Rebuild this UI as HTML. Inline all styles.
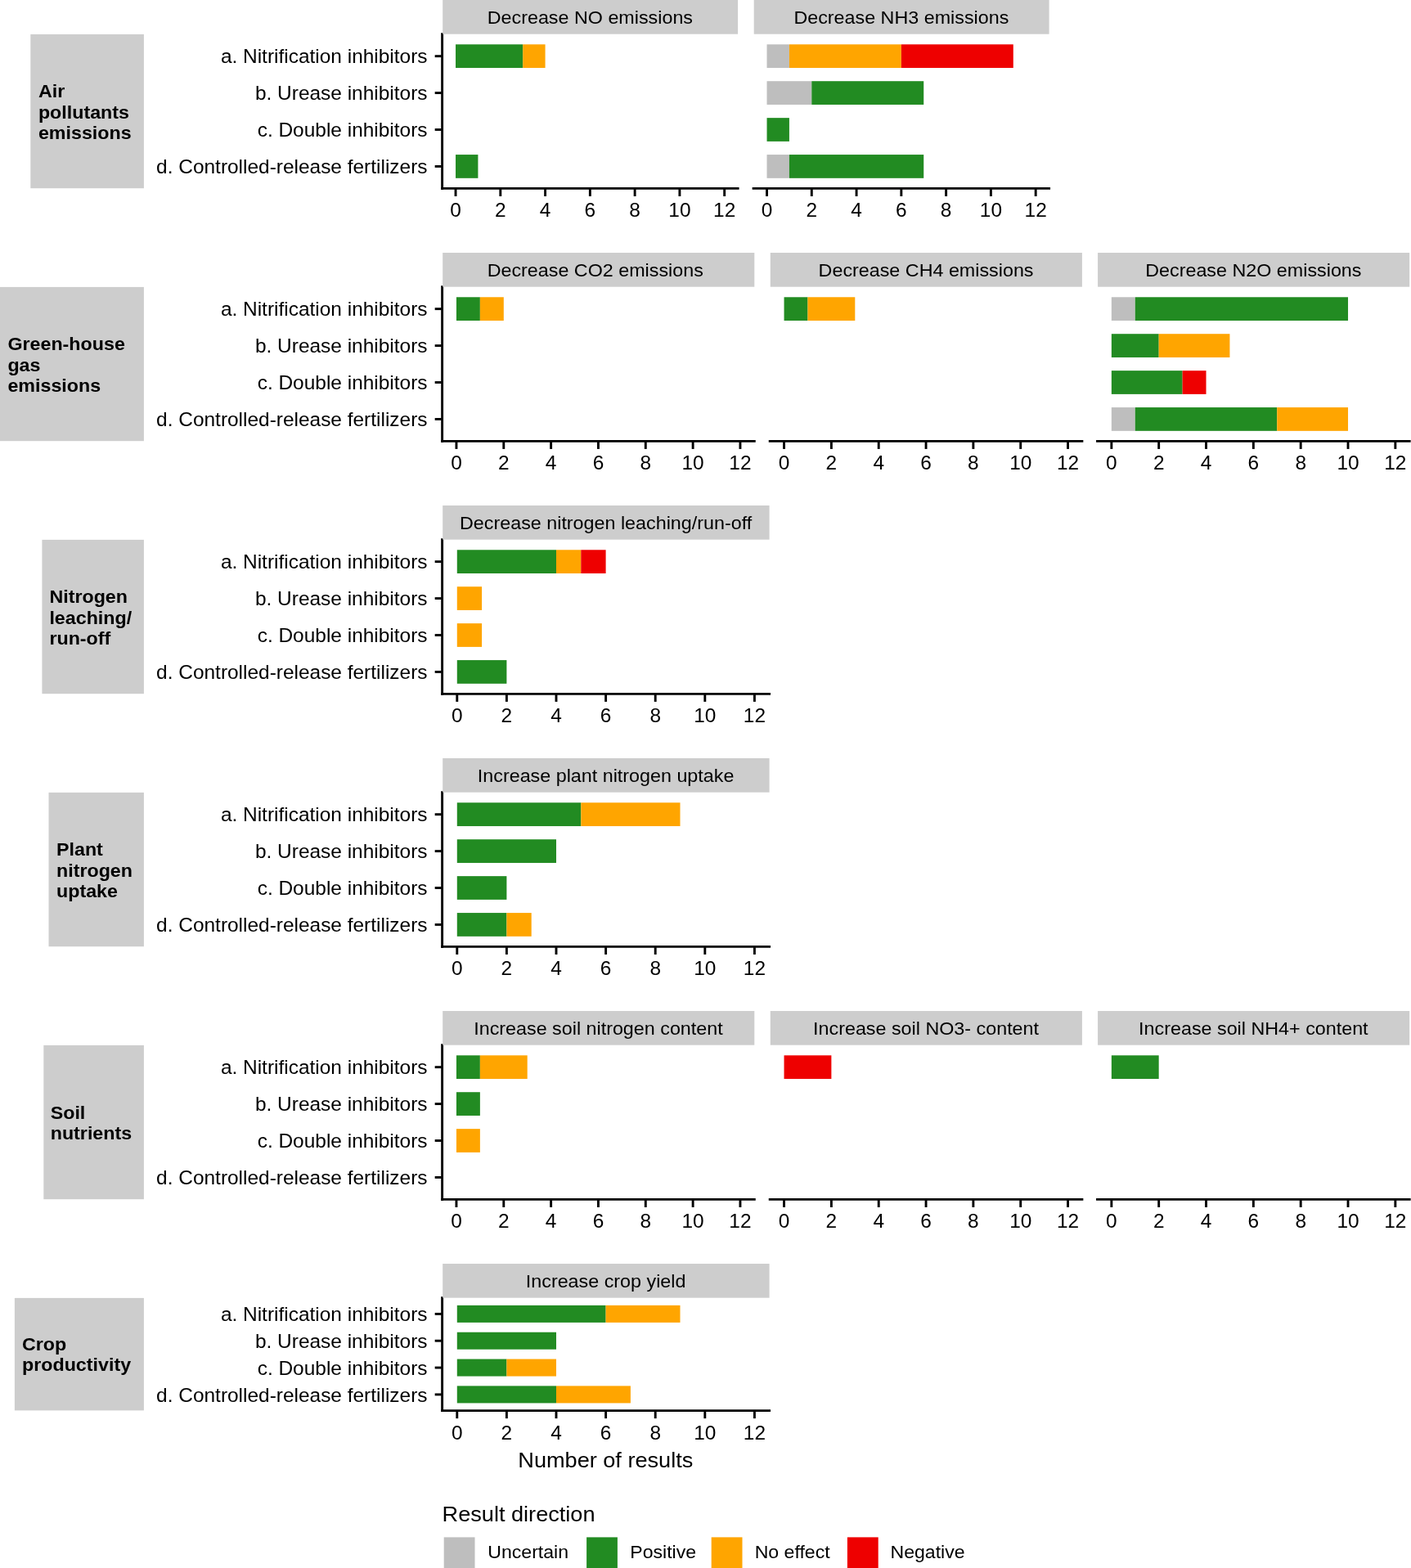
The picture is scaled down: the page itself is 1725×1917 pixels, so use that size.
<!DOCTYPE html>
<html lang="en">
<head>
<meta charset="utf-8">
<title>Effects of enhanced-efficiency fertilizers: number of results by direction</title>
<style>
html,body{margin:0;padding:0;background:#fff;}
body{width:1725px;height:1917px;overflow:hidden;}
svg{display:block;}
text{font-family:"Liberation Sans",Arial,Helvetica,sans-serif;fill:#000;}
.a{font-size:24.45px;}
.s{font-size:22.0px;}
.b{font-size:22.0px;font-weight:bold;}
.t{font-size:25.7px;}
.l{font-size:22.4px;}
</style>
</head>
<body>
<svg width="1725" height="1917" viewBox="0 0 1725 1917" role="img" aria-label="Stacked bar charts of the number of results by result direction for four fertilizer types across six outcome groups">
<rect x="0" y="0" width="1725" height="1917" fill="#fff"/>
<rect x="37.3" y="41.9" width="138.6" height="188.3" fill="#CDCDCD"/>
<text transform="translate(46.9 119.3) scale(1.058 1)" class="b">Air</text>
<text transform="translate(46.9 144.5) scale(1.058 1)" class="b">pollutants</text>
<text transform="translate(46.9 169.7) scale(1.058 1)" class="b">emissions</text>
<text x="522.5" y="77.26" class="a" text-anchor="end">a. Nitrification inhibitors</text>
<line x1="531.65" y1="68.66" x2="540.6" y2="68.66" stroke="#000" stroke-width="2.9" stroke-linecap="butt"/>
<text x="522.5" y="122.19" class="a" text-anchor="end">b. Urease inhibitors</text>
<line x1="531.65" y1="113.59" x2="540.6" y2="113.59" stroke="#000" stroke-width="2.9" stroke-linecap="butt"/>
<text x="522.5" y="167.11" class="a" text-anchor="end">c. Double inhibitors</text>
<line x1="531.65" y1="158.51" x2="540.6" y2="158.51" stroke="#000" stroke-width="2.9" stroke-linecap="butt"/>
<text x="522.5" y="212.04" class="a" text-anchor="end">d. Controlled-release fertilizers</text>
<line x1="531.65" y1="203.44" x2="540.6" y2="203.44" stroke="#000" stroke-width="2.9" stroke-linecap="butt"/>
<line x1="540.6" y1="41.7" x2="540.6" y2="230.4" stroke="#000" stroke-width="2.9" stroke-linecap="square"/>
<rect x="541.2" y="0" width="360.9" height="41.7" fill="#CDCDCD"/>
<text transform="translate(721.35 29.05) scale(1.06 1)" class="s" text-anchor="middle">Decrease NO emissions</text>
<rect x="557.03" y="54.28" width="82.16" height="28.75" fill="#228B22"/>
<rect x="639.19" y="54.28" width="27.39" height="28.75" fill="#FFA500"/>
<rect x="557.03" y="189.07" width="27.39" height="28.75" fill="#228B22"/>
<line x1="540.6" y1="230.4" x2="902.1" y2="230.4" stroke="#000" stroke-width="2.9" stroke-linecap="square"/>
<line x1="557.03" y1="230.4" x2="557.03" y2="239.95" stroke="#000" stroke-width="2.9" stroke-linecap="butt"/>
<text x="557.03" y="265.3" class="a" text-anchor="middle">0</text>
<line x1="611.8" y1="230.4" x2="611.8" y2="239.95" stroke="#000" stroke-width="2.9" stroke-linecap="butt"/>
<text x="611.8" y="265.3" class="a" text-anchor="middle">2</text>
<line x1="666.58" y1="230.4" x2="666.58" y2="239.95" stroke="#000" stroke-width="2.9" stroke-linecap="butt"/>
<text x="666.58" y="265.3" class="a" text-anchor="middle">4</text>
<line x1="721.35" y1="230.4" x2="721.35" y2="239.95" stroke="#000" stroke-width="2.9" stroke-linecap="butt"/>
<text x="721.35" y="265.3" class="a" text-anchor="middle">6</text>
<line x1="776.12" y1="230.4" x2="776.12" y2="239.95" stroke="#000" stroke-width="2.9" stroke-linecap="butt"/>
<text x="776.12" y="265.3" class="a" text-anchor="middle">8</text>
<line x1="830.9" y1="230.4" x2="830.9" y2="239.95" stroke="#000" stroke-width="2.9" stroke-linecap="butt"/>
<text x="830.9" y="265.3" class="a" text-anchor="middle">10</text>
<line x1="885.67" y1="230.4" x2="885.67" y2="239.95" stroke="#000" stroke-width="2.9" stroke-linecap="butt"/>
<text x="885.67" y="265.3" class="a" text-anchor="middle">12</text>
<rect x="921.7" y="0" width="360.9" height="41.7" fill="#CDCDCD"/>
<text transform="translate(1101.85 29.05) scale(1.06 1)" class="s" text-anchor="middle">Decrease NH3 emissions</text>
<rect x="937.53" y="54.28" width="27.39" height="28.75" fill="#BEBEBE"/>
<rect x="964.92" y="54.28" width="136.93" height="28.75" fill="#FFA500"/>
<rect x="1101.85" y="54.28" width="136.93" height="28.75" fill="#EE0000"/>
<rect x="937.53" y="99.21" width="54.77" height="28.75" fill="#BEBEBE"/>
<rect x="992.3" y="99.21" width="136.93" height="28.75" fill="#228B22"/>
<rect x="937.53" y="144.14" width="27.39" height="28.75" fill="#228B22"/>
<rect x="937.53" y="189.07" width="27.39" height="28.75" fill="#BEBEBE"/>
<rect x="964.92" y="189.07" width="164.32" height="28.75" fill="#228B22"/>
<line x1="921.1" y1="230.4" x2="1282.6" y2="230.4" stroke="#000" stroke-width="2.9" stroke-linecap="square"/>
<line x1="937.53" y1="230.4" x2="937.53" y2="239.95" stroke="#000" stroke-width="2.9" stroke-linecap="butt"/>
<text x="937.53" y="265.3" class="a" text-anchor="middle">0</text>
<line x1="992.3" y1="230.4" x2="992.3" y2="239.95" stroke="#000" stroke-width="2.9" stroke-linecap="butt"/>
<text x="992.3" y="265.3" class="a" text-anchor="middle">2</text>
<line x1="1047.08" y1="230.4" x2="1047.08" y2="239.95" stroke="#000" stroke-width="2.9" stroke-linecap="butt"/>
<text x="1047.08" y="265.3" class="a" text-anchor="middle">4</text>
<line x1="1101.85" y1="230.4" x2="1101.85" y2="239.95" stroke="#000" stroke-width="2.9" stroke-linecap="butt"/>
<text x="1101.85" y="265.3" class="a" text-anchor="middle">6</text>
<line x1="1156.62" y1="230.4" x2="1156.62" y2="239.95" stroke="#000" stroke-width="2.9" stroke-linecap="butt"/>
<text x="1156.62" y="265.3" class="a" text-anchor="middle">8</text>
<line x1="1211.4" y1="230.4" x2="1211.4" y2="239.95" stroke="#000" stroke-width="2.9" stroke-linecap="butt"/>
<text x="1211.4" y="265.3" class="a" text-anchor="middle">10</text>
<line x1="1266.17" y1="230.4" x2="1266.17" y2="239.95" stroke="#000" stroke-width="2.9" stroke-linecap="butt"/>
<text x="1266.17" y="265.3" class="a" text-anchor="middle">12</text>
<rect x="-1" y="350.9" width="176.9" height="188.3" fill="#CDCDCD"/>
<text transform="translate(9.4 428.3) scale(1.058 1)" class="b">Green-house</text>
<text transform="translate(9.4 453.5) scale(1.058 1)" class="b">gas</text>
<text transform="translate(9.4 478.7) scale(1.058 1)" class="b">emissions</text>
<text x="522.5" y="386.26" class="a" text-anchor="end">a. Nitrification inhibitors</text>
<line x1="531.65" y1="377.66" x2="540.6" y2="377.66" stroke="#000" stroke-width="2.9" stroke-linecap="butt"/>
<text x="522.5" y="431.19" class="a" text-anchor="end">b. Urease inhibitors</text>
<line x1="531.65" y1="422.59" x2="540.6" y2="422.59" stroke="#000" stroke-width="2.9" stroke-linecap="butt"/>
<text x="522.5" y="476.11" class="a" text-anchor="end">c. Double inhibitors</text>
<line x1="531.65" y1="467.51" x2="540.6" y2="467.51" stroke="#000" stroke-width="2.9" stroke-linecap="butt"/>
<text x="522.5" y="521.04" class="a" text-anchor="end">d. Controlled-release fertilizers</text>
<line x1="531.65" y1="512.44" x2="540.6" y2="512.44" stroke="#000" stroke-width="2.9" stroke-linecap="butt"/>
<line x1="540.6" y1="350.7" x2="540.6" y2="539.4" stroke="#000" stroke-width="2.9" stroke-linecap="square"/>
<rect x="541.2" y="309" width="381.1" height="41.7" fill="#CDCDCD"/>
<text transform="translate(727.75 338.05) scale(1.06 1)" class="s" text-anchor="middle">Decrease CO2 emissions</text>
<rect x="557.95" y="363.28" width="28.92" height="28.75" fill="#228B22"/>
<rect x="586.87" y="363.28" width="28.92" height="28.75" fill="#FFA500"/>
<line x1="540.6" y1="539.4" x2="922.3" y2="539.4" stroke="#000" stroke-width="2.9" stroke-linecap="square"/>
<line x1="557.95" y1="539.4" x2="557.95" y2="548.95" stroke="#000" stroke-width="2.9" stroke-linecap="butt"/>
<text x="557.95" y="574.3" class="a" text-anchor="middle">0</text>
<line x1="615.78" y1="539.4" x2="615.78" y2="548.95" stroke="#000" stroke-width="2.9" stroke-linecap="butt"/>
<text x="615.78" y="574.3" class="a" text-anchor="middle">2</text>
<line x1="673.62" y1="539.4" x2="673.62" y2="548.95" stroke="#000" stroke-width="2.9" stroke-linecap="butt"/>
<text x="673.62" y="574.3" class="a" text-anchor="middle">4</text>
<line x1="731.45" y1="539.4" x2="731.45" y2="548.95" stroke="#000" stroke-width="2.9" stroke-linecap="butt"/>
<text x="731.45" y="574.3" class="a" text-anchor="middle">6</text>
<line x1="789.28" y1="539.4" x2="789.28" y2="548.95" stroke="#000" stroke-width="2.9" stroke-linecap="butt"/>
<text x="789.28" y="574.3" class="a" text-anchor="middle">8</text>
<line x1="847.12" y1="539.4" x2="847.12" y2="548.95" stroke="#000" stroke-width="2.9" stroke-linecap="butt"/>
<text x="847.12" y="574.3" class="a" text-anchor="middle">10</text>
<line x1="904.95" y1="539.4" x2="904.95" y2="548.95" stroke="#000" stroke-width="2.9" stroke-linecap="butt"/>
<text x="904.95" y="574.3" class="a" text-anchor="middle">12</text>
<rect x="941.8" y="309" width="381.1" height="41.7" fill="#CDCDCD"/>
<text transform="translate(1132.05 338.05) scale(1.06 1)" class="s" text-anchor="middle">Decrease CH4 emissions</text>
<rect x="958.55" y="363.28" width="28.92" height="28.75" fill="#228B22"/>
<rect x="987.47" y="363.28" width="57.83" height="28.75" fill="#FFA500"/>
<line x1="941.2" y1="539.4" x2="1322.9" y2="539.4" stroke="#000" stroke-width="2.9" stroke-linecap="square"/>
<line x1="958.55" y1="539.4" x2="958.55" y2="548.95" stroke="#000" stroke-width="2.9" stroke-linecap="butt"/>
<text x="958.55" y="574.3" class="a" text-anchor="middle">0</text>
<line x1="1016.38" y1="539.4" x2="1016.38" y2="548.95" stroke="#000" stroke-width="2.9" stroke-linecap="butt"/>
<text x="1016.38" y="574.3" class="a" text-anchor="middle">2</text>
<line x1="1074.22" y1="539.4" x2="1074.22" y2="548.95" stroke="#000" stroke-width="2.9" stroke-linecap="butt"/>
<text x="1074.22" y="574.3" class="a" text-anchor="middle">4</text>
<line x1="1132.05" y1="539.4" x2="1132.05" y2="548.95" stroke="#000" stroke-width="2.9" stroke-linecap="butt"/>
<text x="1132.05" y="574.3" class="a" text-anchor="middle">6</text>
<line x1="1189.88" y1="539.4" x2="1189.88" y2="548.95" stroke="#000" stroke-width="2.9" stroke-linecap="butt"/>
<text x="1189.88" y="574.3" class="a" text-anchor="middle">8</text>
<line x1="1247.72" y1="539.4" x2="1247.72" y2="548.95" stroke="#000" stroke-width="2.9" stroke-linecap="butt"/>
<text x="1247.72" y="574.3" class="a" text-anchor="middle">10</text>
<line x1="1305.55" y1="539.4" x2="1305.55" y2="548.95" stroke="#000" stroke-width="2.9" stroke-linecap="butt"/>
<text x="1305.55" y="574.3" class="a" text-anchor="middle">12</text>
<rect x="1342.1" y="309" width="381.1" height="41.7" fill="#CDCDCD"/>
<text transform="translate(1532.35 338.05) scale(1.06 1)" class="s" text-anchor="middle">Decrease N2O emissions</text>
<rect x="1358.85" y="363.28" width="28.92" height="28.75" fill="#BEBEBE"/>
<rect x="1387.77" y="363.28" width="260.25" height="28.75" fill="#228B22"/>
<rect x="1358.85" y="408.21" width="57.83" height="28.75" fill="#228B22"/>
<rect x="1416.68" y="408.21" width="86.75" height="28.75" fill="#FFA500"/>
<rect x="1358.85" y="453.14" width="86.75" height="28.75" fill="#228B22"/>
<rect x="1445.6" y="453.14" width="28.92" height="28.75" fill="#EE0000"/>
<rect x="1358.85" y="498.07" width="28.92" height="28.75" fill="#BEBEBE"/>
<rect x="1387.77" y="498.07" width="173.5" height="28.75" fill="#228B22"/>
<rect x="1561.27" y="498.07" width="86.75" height="28.75" fill="#FFA500"/>
<line x1="1341.5" y1="539.4" x2="1723.2" y2="539.4" stroke="#000" stroke-width="2.9" stroke-linecap="square"/>
<line x1="1358.85" y1="539.4" x2="1358.85" y2="548.95" stroke="#000" stroke-width="2.9" stroke-linecap="butt"/>
<text x="1358.85" y="574.3" class="a" text-anchor="middle">0</text>
<line x1="1416.68" y1="539.4" x2="1416.68" y2="548.95" stroke="#000" stroke-width="2.9" stroke-linecap="butt"/>
<text x="1416.68" y="574.3" class="a" text-anchor="middle">2</text>
<line x1="1474.52" y1="539.4" x2="1474.52" y2="548.95" stroke="#000" stroke-width="2.9" stroke-linecap="butt"/>
<text x="1474.52" y="574.3" class="a" text-anchor="middle">4</text>
<line x1="1532.35" y1="539.4" x2="1532.35" y2="548.95" stroke="#000" stroke-width="2.9" stroke-linecap="butt"/>
<text x="1532.35" y="574.3" class="a" text-anchor="middle">6</text>
<line x1="1590.18" y1="539.4" x2="1590.18" y2="548.95" stroke="#000" stroke-width="2.9" stroke-linecap="butt"/>
<text x="1590.18" y="574.3" class="a" text-anchor="middle">8</text>
<line x1="1648.02" y1="539.4" x2="1648.02" y2="548.95" stroke="#000" stroke-width="2.9" stroke-linecap="butt"/>
<text x="1648.02" y="574.3" class="a" text-anchor="middle">10</text>
<line x1="1705.85" y1="539.4" x2="1705.85" y2="548.95" stroke="#000" stroke-width="2.9" stroke-linecap="butt"/>
<text x="1705.85" y="574.3" class="a" text-anchor="middle">12</text>
<rect x="51.4" y="659.9" width="124.5" height="188.3" fill="#CDCDCD"/>
<text transform="translate(60.4 737.3) scale(1.058 1)" class="b">Nitrogen</text>
<text transform="translate(60.4 762.5) scale(1.058 1)" class="b">leaching/</text>
<text transform="translate(60.4 787.7) scale(1.058 1)" class="b">run-off</text>
<text x="522.5" y="695.26" class="a" text-anchor="end">a. Nitrification inhibitors</text>
<line x1="531.65" y1="686.66" x2="540.6" y2="686.66" stroke="#000" stroke-width="2.9" stroke-linecap="butt"/>
<text x="522.5" y="740.19" class="a" text-anchor="end">b. Urease inhibitors</text>
<line x1="531.65" y1="731.59" x2="540.6" y2="731.59" stroke="#000" stroke-width="2.9" stroke-linecap="butt"/>
<text x="522.5" y="785.11" class="a" text-anchor="end">c. Double inhibitors</text>
<line x1="531.65" y1="776.51" x2="540.6" y2="776.51" stroke="#000" stroke-width="2.9" stroke-linecap="butt"/>
<text x="522.5" y="830.04" class="a" text-anchor="end">d. Controlled-release fertilizers</text>
<line x1="531.65" y1="821.44" x2="540.6" y2="821.44" stroke="#000" stroke-width="2.9" stroke-linecap="butt"/>
<line x1="540.6" y1="659.7" x2="540.6" y2="848.4" stroke="#000" stroke-width="2.9" stroke-linecap="square"/>
<rect x="541.2" y="618" width="399.4" height="41.7" fill="#CDCDCD"/>
<text transform="translate(740.6 647.05) scale(1.06 1)" class="s" text-anchor="middle">Decrease nitrogen leaching/run-off</text>
<rect x="558.78" y="672.28" width="121.21" height="28.75" fill="#228B22"/>
<rect x="679.99" y="672.28" width="30.3" height="28.75" fill="#FFA500"/>
<rect x="710.3" y="672.28" width="30.3" height="28.75" fill="#EE0000"/>
<rect x="558.78" y="717.21" width="30.3" height="28.75" fill="#FFA500"/>
<rect x="558.78" y="762.14" width="30.3" height="28.75" fill="#FFA500"/>
<rect x="558.78" y="807.07" width="60.61" height="28.75" fill="#228B22"/>
<line x1="540.6" y1="848.4" x2="940.6" y2="848.4" stroke="#000" stroke-width="2.9" stroke-linecap="square"/>
<line x1="558.78" y1="848.4" x2="558.78" y2="857.95" stroke="#000" stroke-width="2.9" stroke-linecap="butt"/>
<text x="558.78" y="883.3" class="a" text-anchor="middle">0</text>
<line x1="619.39" y1="848.4" x2="619.39" y2="857.95" stroke="#000" stroke-width="2.9" stroke-linecap="butt"/>
<text x="619.39" y="883.3" class="a" text-anchor="middle">2</text>
<line x1="679.99" y1="848.4" x2="679.99" y2="857.95" stroke="#000" stroke-width="2.9" stroke-linecap="butt"/>
<text x="679.99" y="883.3" class="a" text-anchor="middle">4</text>
<line x1="740.6" y1="848.4" x2="740.6" y2="857.95" stroke="#000" stroke-width="2.9" stroke-linecap="butt"/>
<text x="740.6" y="883.3" class="a" text-anchor="middle">6</text>
<line x1="801.21" y1="848.4" x2="801.21" y2="857.95" stroke="#000" stroke-width="2.9" stroke-linecap="butt"/>
<text x="801.21" y="883.3" class="a" text-anchor="middle">8</text>
<line x1="861.81" y1="848.4" x2="861.81" y2="857.95" stroke="#000" stroke-width="2.9" stroke-linecap="butt"/>
<text x="861.81" y="883.3" class="a" text-anchor="middle">10</text>
<line x1="922.42" y1="848.4" x2="922.42" y2="857.95" stroke="#000" stroke-width="2.9" stroke-linecap="butt"/>
<text x="922.42" y="883.3" class="a" text-anchor="middle">12</text>
<rect x="59.5" y="968.9" width="116.4" height="188.3" fill="#CDCDCD"/>
<text transform="translate(69 1046.3) scale(1.058 1)" class="b">Plant</text>
<text transform="translate(69 1071.5) scale(1.058 1)" class="b">nitrogen</text>
<text transform="translate(69 1096.7) scale(1.058 1)" class="b">uptake</text>
<text x="522.5" y="1004.26" class="a" text-anchor="end">a. Nitrification inhibitors</text>
<line x1="531.65" y1="995.66" x2="540.6" y2="995.66" stroke="#000" stroke-width="2.9" stroke-linecap="butt"/>
<text x="522.5" y="1049.19" class="a" text-anchor="end">b. Urease inhibitors</text>
<line x1="531.65" y1="1040.59" x2="540.6" y2="1040.59" stroke="#000" stroke-width="2.9" stroke-linecap="butt"/>
<text x="522.5" y="1094.11" class="a" text-anchor="end">c. Double inhibitors</text>
<line x1="531.65" y1="1085.51" x2="540.6" y2="1085.51" stroke="#000" stroke-width="2.9" stroke-linecap="butt"/>
<text x="522.5" y="1139.04" class="a" text-anchor="end">d. Controlled-release fertilizers</text>
<line x1="531.65" y1="1130.44" x2="540.6" y2="1130.44" stroke="#000" stroke-width="2.9" stroke-linecap="butt"/>
<line x1="540.6" y1="968.7" x2="540.6" y2="1157.4" stroke="#000" stroke-width="2.9" stroke-linecap="square"/>
<rect x="541.2" y="927" width="399.4" height="41.7" fill="#CDCDCD"/>
<text transform="translate(740.6 956.05) scale(1.06 1)" class="s" text-anchor="middle">Increase plant nitrogen uptake</text>
<rect x="558.78" y="981.28" width="151.52" height="28.75" fill="#228B22"/>
<rect x="710.3" y="981.28" width="121.21" height="28.75" fill="#FFA500"/>
<rect x="558.78" y="1026.21" width="121.21" height="28.75" fill="#228B22"/>
<rect x="558.78" y="1071.14" width="60.61" height="28.75" fill="#228B22"/>
<rect x="558.78" y="1116.07" width="60.61" height="28.75" fill="#228B22"/>
<rect x="619.39" y="1116.07" width="30.3" height="28.75" fill="#FFA500"/>
<line x1="540.6" y1="1157.4" x2="940.6" y2="1157.4" stroke="#000" stroke-width="2.9" stroke-linecap="square"/>
<line x1="558.78" y1="1157.4" x2="558.78" y2="1166.95" stroke="#000" stroke-width="2.9" stroke-linecap="butt"/>
<text x="558.78" y="1192.3" class="a" text-anchor="middle">0</text>
<line x1="619.39" y1="1157.4" x2="619.39" y2="1166.95" stroke="#000" stroke-width="2.9" stroke-linecap="butt"/>
<text x="619.39" y="1192.3" class="a" text-anchor="middle">2</text>
<line x1="679.99" y1="1157.4" x2="679.99" y2="1166.95" stroke="#000" stroke-width="2.9" stroke-linecap="butt"/>
<text x="679.99" y="1192.3" class="a" text-anchor="middle">4</text>
<line x1="740.6" y1="1157.4" x2="740.6" y2="1166.95" stroke="#000" stroke-width="2.9" stroke-linecap="butt"/>
<text x="740.6" y="1192.3" class="a" text-anchor="middle">6</text>
<line x1="801.21" y1="1157.4" x2="801.21" y2="1166.95" stroke="#000" stroke-width="2.9" stroke-linecap="butt"/>
<text x="801.21" y="1192.3" class="a" text-anchor="middle">8</text>
<line x1="861.81" y1="1157.4" x2="861.81" y2="1166.95" stroke="#000" stroke-width="2.9" stroke-linecap="butt"/>
<text x="861.81" y="1192.3" class="a" text-anchor="middle">10</text>
<line x1="922.42" y1="1157.4" x2="922.42" y2="1166.95" stroke="#000" stroke-width="2.9" stroke-linecap="butt"/>
<text x="922.42" y="1192.3" class="a" text-anchor="middle">12</text>
<rect x="53.3" y="1277.9" width="122.6" height="188.3" fill="#CDCDCD"/>
<text transform="translate(61.7 1367.9) scale(1.058 1)" class="b">Soil</text>
<text transform="translate(61.7 1393.1) scale(1.058 1)" class="b">nutrients</text>
<text x="522.5" y="1313.26" class="a" text-anchor="end">a. Nitrification inhibitors</text>
<line x1="531.65" y1="1304.66" x2="540.6" y2="1304.66" stroke="#000" stroke-width="2.9" stroke-linecap="butt"/>
<text x="522.5" y="1358.19" class="a" text-anchor="end">b. Urease inhibitors</text>
<line x1="531.65" y1="1349.59" x2="540.6" y2="1349.59" stroke="#000" stroke-width="2.9" stroke-linecap="butt"/>
<text x="522.5" y="1403.11" class="a" text-anchor="end">c. Double inhibitors</text>
<line x1="531.65" y1="1394.51" x2="540.6" y2="1394.51" stroke="#000" stroke-width="2.9" stroke-linecap="butt"/>
<text x="522.5" y="1448.04" class="a" text-anchor="end">d. Controlled-release fertilizers</text>
<line x1="531.65" y1="1439.44" x2="540.6" y2="1439.44" stroke="#000" stroke-width="2.9" stroke-linecap="butt"/>
<line x1="540.6" y1="1277.7" x2="540.6" y2="1466.4" stroke="#000" stroke-width="2.9" stroke-linecap="square"/>
<rect x="541.2" y="1236" width="381.1" height="41.7" fill="#CDCDCD"/>
<text transform="translate(731.45 1265.05) scale(1.06 1)" class="s" text-anchor="middle">Increase soil nitrogen content</text>
<rect x="557.95" y="1290.28" width="28.92" height="28.75" fill="#228B22"/>
<rect x="586.87" y="1290.28" width="57.83" height="28.75" fill="#FFA500"/>
<rect x="557.95" y="1335.21" width="28.92" height="28.75" fill="#228B22"/>
<rect x="557.95" y="1380.14" width="28.92" height="28.75" fill="#FFA500"/>
<line x1="540.6" y1="1466.4" x2="922.3" y2="1466.4" stroke="#000" stroke-width="2.9" stroke-linecap="square"/>
<line x1="557.95" y1="1466.4" x2="557.95" y2="1475.95" stroke="#000" stroke-width="2.9" stroke-linecap="butt"/>
<text x="557.95" y="1501.3" class="a" text-anchor="middle">0</text>
<line x1="615.78" y1="1466.4" x2="615.78" y2="1475.95" stroke="#000" stroke-width="2.9" stroke-linecap="butt"/>
<text x="615.78" y="1501.3" class="a" text-anchor="middle">2</text>
<line x1="673.62" y1="1466.4" x2="673.62" y2="1475.95" stroke="#000" stroke-width="2.9" stroke-linecap="butt"/>
<text x="673.62" y="1501.3" class="a" text-anchor="middle">4</text>
<line x1="731.45" y1="1466.4" x2="731.45" y2="1475.95" stroke="#000" stroke-width="2.9" stroke-linecap="butt"/>
<text x="731.45" y="1501.3" class="a" text-anchor="middle">6</text>
<line x1="789.28" y1="1466.4" x2="789.28" y2="1475.95" stroke="#000" stroke-width="2.9" stroke-linecap="butt"/>
<text x="789.28" y="1501.3" class="a" text-anchor="middle">8</text>
<line x1="847.12" y1="1466.4" x2="847.12" y2="1475.95" stroke="#000" stroke-width="2.9" stroke-linecap="butt"/>
<text x="847.12" y="1501.3" class="a" text-anchor="middle">10</text>
<line x1="904.95" y1="1466.4" x2="904.95" y2="1475.95" stroke="#000" stroke-width="2.9" stroke-linecap="butt"/>
<text x="904.95" y="1501.3" class="a" text-anchor="middle">12</text>
<rect x="941.8" y="1236" width="381.1" height="41.7" fill="#CDCDCD"/>
<text transform="translate(1132.05 1265.05) scale(1.06 1)" class="s" text-anchor="middle">Increase soil NO3- content</text>
<rect x="958.55" y="1290.28" width="57.83" height="28.75" fill="#EE0000"/>
<line x1="941.2" y1="1466.4" x2="1322.9" y2="1466.4" stroke="#000" stroke-width="2.9" stroke-linecap="square"/>
<line x1="958.55" y1="1466.4" x2="958.55" y2="1475.95" stroke="#000" stroke-width="2.9" stroke-linecap="butt"/>
<text x="958.55" y="1501.3" class="a" text-anchor="middle">0</text>
<line x1="1016.38" y1="1466.4" x2="1016.38" y2="1475.95" stroke="#000" stroke-width="2.9" stroke-linecap="butt"/>
<text x="1016.38" y="1501.3" class="a" text-anchor="middle">2</text>
<line x1="1074.22" y1="1466.4" x2="1074.22" y2="1475.95" stroke="#000" stroke-width="2.9" stroke-linecap="butt"/>
<text x="1074.22" y="1501.3" class="a" text-anchor="middle">4</text>
<line x1="1132.05" y1="1466.4" x2="1132.05" y2="1475.95" stroke="#000" stroke-width="2.9" stroke-linecap="butt"/>
<text x="1132.05" y="1501.3" class="a" text-anchor="middle">6</text>
<line x1="1189.88" y1="1466.4" x2="1189.88" y2="1475.95" stroke="#000" stroke-width="2.9" stroke-linecap="butt"/>
<text x="1189.88" y="1501.3" class="a" text-anchor="middle">8</text>
<line x1="1247.72" y1="1466.4" x2="1247.72" y2="1475.95" stroke="#000" stroke-width="2.9" stroke-linecap="butt"/>
<text x="1247.72" y="1501.3" class="a" text-anchor="middle">10</text>
<line x1="1305.55" y1="1466.4" x2="1305.55" y2="1475.95" stroke="#000" stroke-width="2.9" stroke-linecap="butt"/>
<text x="1305.55" y="1501.3" class="a" text-anchor="middle">12</text>
<rect x="1342.1" y="1236" width="381.1" height="41.7" fill="#CDCDCD"/>
<text transform="translate(1532.35 1265.05) scale(1.06 1)" class="s" text-anchor="middle">Increase soil NH4+ content</text>
<rect x="1358.85" y="1290.28" width="57.83" height="28.75" fill="#228B22"/>
<line x1="1341.5" y1="1466.4" x2="1723.2" y2="1466.4" stroke="#000" stroke-width="2.9" stroke-linecap="square"/>
<line x1="1358.85" y1="1466.4" x2="1358.85" y2="1475.95" stroke="#000" stroke-width="2.9" stroke-linecap="butt"/>
<text x="1358.85" y="1501.3" class="a" text-anchor="middle">0</text>
<line x1="1416.68" y1="1466.4" x2="1416.68" y2="1475.95" stroke="#000" stroke-width="2.9" stroke-linecap="butt"/>
<text x="1416.68" y="1501.3" class="a" text-anchor="middle">2</text>
<line x1="1474.52" y1="1466.4" x2="1474.52" y2="1475.95" stroke="#000" stroke-width="2.9" stroke-linecap="butt"/>
<text x="1474.52" y="1501.3" class="a" text-anchor="middle">4</text>
<line x1="1532.35" y1="1466.4" x2="1532.35" y2="1475.95" stroke="#000" stroke-width="2.9" stroke-linecap="butt"/>
<text x="1532.35" y="1501.3" class="a" text-anchor="middle">6</text>
<line x1="1590.18" y1="1466.4" x2="1590.18" y2="1475.95" stroke="#000" stroke-width="2.9" stroke-linecap="butt"/>
<text x="1590.18" y="1501.3" class="a" text-anchor="middle">8</text>
<line x1="1648.02" y1="1466.4" x2="1648.02" y2="1475.95" stroke="#000" stroke-width="2.9" stroke-linecap="butt"/>
<text x="1648.02" y="1501.3" class="a" text-anchor="middle">10</text>
<line x1="1705.85" y1="1466.4" x2="1705.85" y2="1475.95" stroke="#000" stroke-width="2.9" stroke-linecap="butt"/>
<text x="1705.85" y="1501.3" class="a" text-anchor="middle">12</text>
<rect x="17.9" y="1586.9" width="158" height="137.5" fill="#CDCDCD"/>
<text transform="translate(27 1650.9) scale(1.058 1)" class="b">Crop</text>
<text transform="translate(27 1676.1) scale(1.058 1)" class="b">productivity</text>
<text x="522.5" y="1615" class="a" text-anchor="end">a. Nitrification inhibitors</text>
<line x1="531.65" y1="1606.4" x2="540.6" y2="1606.4" stroke="#000" stroke-width="2.9" stroke-linecap="butt"/>
<text x="522.5" y="1647.83" class="a" text-anchor="end">b. Urease inhibitors</text>
<line x1="531.65" y1="1639.23" x2="540.6" y2="1639.23" stroke="#000" stroke-width="2.9" stroke-linecap="butt"/>
<text x="522.5" y="1680.67" class="a" text-anchor="end">c. Double inhibitors</text>
<line x1="531.65" y1="1672.07" x2="540.6" y2="1672.07" stroke="#000" stroke-width="2.9" stroke-linecap="butt"/>
<text x="522.5" y="1713.5" class="a" text-anchor="end">d. Controlled-release fertilizers</text>
<line x1="531.65" y1="1704.9" x2="540.6" y2="1704.9" stroke="#000" stroke-width="2.9" stroke-linecap="butt"/>
<line x1="540.6" y1="1586.7" x2="540.6" y2="1724.6" stroke="#000" stroke-width="2.9" stroke-linecap="square"/>
<rect x="541.2" y="1545" width="399.4" height="41.7" fill="#CDCDCD"/>
<text transform="translate(740.6 1574.05) scale(1.06 1)" class="s" text-anchor="middle">Increase crop yield</text>
<rect x="558.78" y="1595.89" width="181.82" height="21.01" fill="#228B22"/>
<rect x="740.6" y="1595.89" width="90.91" height="21.01" fill="#FFA500"/>
<rect x="558.78" y="1628.73" width="121.21" height="21.01" fill="#228B22"/>
<rect x="558.78" y="1661.56" width="60.61" height="21.01" fill="#228B22"/>
<rect x="619.39" y="1661.56" width="60.61" height="21.01" fill="#FFA500"/>
<rect x="558.78" y="1694.39" width="121.21" height="21.01" fill="#228B22"/>
<rect x="679.99" y="1694.39" width="90.91" height="21.01" fill="#FFA500"/>
<line x1="540.6" y1="1724.6" x2="940.6" y2="1724.6" stroke="#000" stroke-width="2.9" stroke-linecap="square"/>
<line x1="558.78" y1="1724.6" x2="558.78" y2="1734.15" stroke="#000" stroke-width="2.9" stroke-linecap="butt"/>
<text x="558.78" y="1759.5" class="a" text-anchor="middle">0</text>
<line x1="619.39" y1="1724.6" x2="619.39" y2="1734.15" stroke="#000" stroke-width="2.9" stroke-linecap="butt"/>
<text x="619.39" y="1759.5" class="a" text-anchor="middle">2</text>
<line x1="679.99" y1="1724.6" x2="679.99" y2="1734.15" stroke="#000" stroke-width="2.9" stroke-linecap="butt"/>
<text x="679.99" y="1759.5" class="a" text-anchor="middle">4</text>
<line x1="740.6" y1="1724.6" x2="740.6" y2="1734.15" stroke="#000" stroke-width="2.9" stroke-linecap="butt"/>
<text x="740.6" y="1759.5" class="a" text-anchor="middle">6</text>
<line x1="801.21" y1="1724.6" x2="801.21" y2="1734.15" stroke="#000" stroke-width="2.9" stroke-linecap="butt"/>
<text x="801.21" y="1759.5" class="a" text-anchor="middle">8</text>
<line x1="861.81" y1="1724.6" x2="861.81" y2="1734.15" stroke="#000" stroke-width="2.9" stroke-linecap="butt"/>
<text x="861.81" y="1759.5" class="a" text-anchor="middle">10</text>
<line x1="922.42" y1="1724.6" x2="922.42" y2="1734.15" stroke="#000" stroke-width="2.9" stroke-linecap="butt"/>
<text x="922.42" y="1759.5" class="a" text-anchor="middle">12</text>
<text transform="translate(740.3 1794) scale(1.056 1)" class="t" text-anchor="middle">Number of results</text>
<text transform="translate(540.6 1860.4) scale(1.056 1)" class="t">Result direction</text>
<rect x="542.7" y="1879.4" width="37.8" height="38" fill="#BEBEBE"/>
<text transform="translate(596.3 1905.4) scale(1.031 1)" class="l">Uncertain</text>
<rect x="717.1" y="1879.4" width="37.8" height="38" fill="#228B22"/>
<text transform="translate(770.3 1905.4) scale(1.031 1)" class="l">Positive</text>
<rect x="869.7" y="1879.4" width="37.8" height="38" fill="#FFA500"/>
<text transform="translate(922.7 1905.4) scale(1.031 1)" class="l">No effect</text>
<rect x="1035.9" y="1879.4" width="37.8" height="38" fill="#EE0000"/>
<text transform="translate(1088.5 1905.4) scale(1.031 1)" class="l">Negative</text>
</svg>
</body>
</html>
